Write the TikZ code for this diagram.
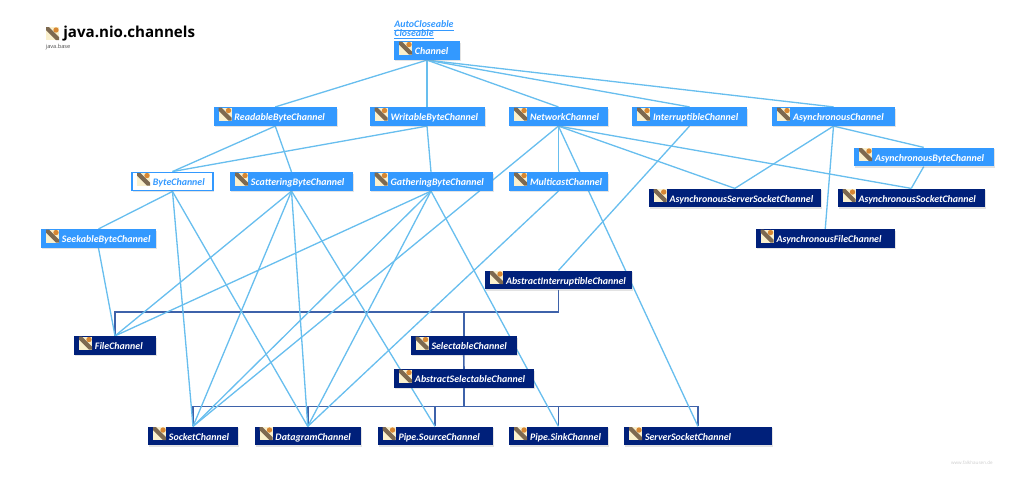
\documentclass[tikz,border=0pt]{standalone}
\usepackage{fontspec}
\setmainfont{Open Sans}
\newfontfamily\labelfont{Carlito}
\usetikzlibrary{calc,shadows,backgrounds}
\definecolor{ifaceblue}{RGB}{51,153,255}
\definecolor{classblue}{RGB}{0,32,122}
\definecolor{linkblue}{RGB}{104,190,238}
\definecolor{treeblue}{RGB}{62,98,170}
\definecolor{iconcream}{RGB}{250,240,205}
\definecolor{iconbrown}{RGB}{125,105,80}
\definecolor{iconorange}{RGB}{215,135,50}

\begin{document}
\begin{tikzpicture}[
    x=0.02cm, y=-0.02cm,
    every node/.style={font=\labelfont\bfseries\itshape\fontsize{5.65}{7}\selectfont},
    chanbox/.style={rectangle, minimum width=#1*0.02cm, text width=#1*0.02cm, minimum height=0.37cm,
        inner xsep=0pt, inner ysep=0pt, align=left, text=white, fill=ifaceblue,
        text height=5.6pt, text depth=1pt,
        drop shadow={opacity=0.22, shadow xshift=0.02cm, shadow yshift=-0.03cm},
        execute at begin node={\hspace*{0.42cm}},
        path picture={
            \begin{scope}[shift={(path picture bounding box.north west)}]
                \fill[iconcream] (5,-13) rectangle (18,0);
                \fill[iconbrown] (5,-13) -- (8,-13) -- (18,-3) -- (18,0) -- (15,0) -- (5,-10) -- cycle;
                \fill[iconorange] (15,-10) circle (2.7);
            \end{scope}
        }},
    classbox/.style={chanbox=#1, fill=classblue},
    openbox/.style={chanbox=#1, fill=white, draw=ifaceblue, thick, text=ifaceblue},
    link/.style={draw=linkblue, line width=0.75pt},
    tree/.style={draw=treeblue, line width=0.9pt},
]

% Title
\coordinate (origin) at (0,0);
\useasboundingbox (origin) rectangle (1024,484);
\node[font=\bfseries\fontsize{8.6}{11}\selectfont, text=black, anchor=west, inner sep=0pt] (title) at (63,33.5) {java.nio.channels};
\node[font=\fontsize{3.2}{4}\selectfont, text=black!70, anchor=west, inner sep=0pt] (module) at (45.5,47) {java.base};
\node[inner sep=0pt, fill=iconcream, minimum width=0.26cm, minimum height=0.26cm] (titleicon) at (52.5,33.5) {};
\fill[iconbrown] (46,27) -- (49,27) -- (59,37) -- (59,40) -- (56,40) -- (46,30) -- cycle;
\fill[iconorange] (56,30) circle (2.7);
\node[font=\fontsize{2.6}{3}\selectfont, text=black!20, anchor=east, inner sep=0pt] (credit) at (993,462.5) {www.falkhausen.de};

% Super interfaces of Channel
\node[text=ifaceblue, anchor=west, inner sep=0pt] (autocloseable) at (394,26) {\underline{AutoCloseable}};
\node[text=ifaceblue, anchor=west, inner sep=0pt] (closeable) at (394,34.5) {\underline{Closeable}};

% --- INTERFACES ---
\node[chanbox=66] (channel) at (427,50.5) {Channel};
\node[chanbox=123.5] (readable) at (275.25,116.5) {ReadableByteChannel};
\node[chanbox=115] (writable) at (427,116.5) {WritableByteChannel};
\node[chanbox=98.7] (network) at (558.4,116.5) {NetworkChannel};
\node[chanbox=115] (interruptible) at (689.5,116.5) {InterruptibleChannel};
\node[chanbox=123] (asynchronous) at (833.5,116.5) {AsynchronousChannel};
\node[chanbox=139.5] (asyncbyte) at (923.75,157) {AsynchronousByteChannel};
\node[openbox=81] (bytechannel) at (172.5,181.5) {ByteChannel};
\node[chanbox=123] (scattering) at (291.5,181.5) {ScatteringByteChannel};
\node[chanbox=123] (gathering) at (431,181.5) {GatheringByteChannel};
\node[chanbox=98.7] (multicast) at (558.4,181.5) {MulticastChannel};
\node[chanbox=115] (seekable) at (98.5,238.5) {SeekableByteChannel};

% --- CLASSES ---
\node[classbox=172.3] (asyncserver) at (734.85,198) {AsynchronousServerSocketChannel};
\node[classbox=147.5] (asyncsocket) at (911.25,198) {AsynchronousSocketChannel};
\node[classbox=139.5] (asyncfile) at (825.25,238.5) {AsynchronousFileChannel};
\node[classbox=147] (absinterrupt) at (558.5,280) {AbstractInterruptibleChannel};
\node[classbox=82] (filechannel) at (115,345.5) {FileChannel};
\node[classbox=106.5] (selectable) at (463.75,345.5) {SelectableChannel};
\node[classbox=140] (absselect) at (464,378.5) {AbstractSelectableChannel};
\node[classbox=90] (socket) at (193,436) {SocketChannel};
\node[classbox=106.5] (datagram) at (307.75,436) {DatagramChannel};
\node[classbox=115] (pipesource) at (435,436) {Pipe.SourceChannel};
\node[classbox=98.7] (pipesink) at (558.4,436) {Pipe.SinkChannel};
\node[classbox=148] (serversocket) at (698,436) {ServerSocketChannel};

\begin{pgfonlayer}{background}
% Class inheritance
\draw[tree] (absinterrupt.south) -- ++(0,22.5) -| (filechannel.north);
\draw[tree] (absinterrupt.south) -- ++(0,22.5) -| (selectable.north);
\draw[tree] (selectable.south) -- (absselect.north);
\draw[tree] (absselect.south) -- ++(0,18.5) -| (socket.north);
\draw[tree] (absselect.south) -- ++(0,18.5) -| (datagram.north);
\draw[tree] (absselect.south) -- ++(0,18.5) -| (pipesource.north);
\draw[tree] (absselect.south) -- ++(0,18.5) -| (pipesink.north);
\draw[tree] (absselect.south) -- ++(0,18.5) -| (serversocket.north);

% Interface links
\draw[link] (channel.south) -- (readable.north);
\draw[link] (channel.south) -- (writable.north);
\draw[link] (channel.south) -- (network.north);
\draw[link] (channel.south) -- (interruptible.north);
\draw[link] (channel.south) -- (asynchronous.north);
\draw[link] (readable.south) -- (bytechannel.north);
\draw[link] (readable.south) -- (scattering.north);
\draw[link] (writable.south) -- (bytechannel.north);
\draw[link] (writable.south) -- (gathering.north);
\draw[link] (network.south) -- (multicast.north);
\draw[link] (network.south) -- (socket.north);
\draw[link] (network.south) -- (serversocket.north);
\draw[link] (network.south) -- (asyncserver.north);
\draw[link] (network.south) -- (asyncsocket.north);
\draw[link] (interruptible.south) -- (absinterrupt.north);
\draw[link] (asynchronous.south) -- (asyncbyte.north);
\draw[link] (asynchronous.south) -- (asyncserver.north);
\draw[link] (asynchronous.south) -- (asyncfile.north);
\draw[link] (asyncbyte.south) -- (asyncsocket.north);
\draw[link] (bytechannel.south) -- (seekable.north);
\draw[link] (bytechannel.south) -- (socket.north);
\draw[link] (bytechannel.south) -- (datagram.north);
\draw[link] (seekable.south) -- (filechannel.north);
\draw[link] (scattering.south) -- (filechannel.north);
\draw[link] (scattering.south) -- (socket.north);
\draw[link] (scattering.south) -- (datagram.north);
\draw[link] (scattering.south) -- (pipesource.north);
\draw[link] (gathering.south) -- (filechannel.north);
\draw[link] (gathering.south) -- (socket.north);
\draw[link] (gathering.south) -- (datagram.north);
\draw[link] (gathering.south) -- (pipesink.north);
\draw[link] (multicast.south) -- (datagram.north);
\end{pgfonlayer}

\end{tikzpicture}
\end{document}
